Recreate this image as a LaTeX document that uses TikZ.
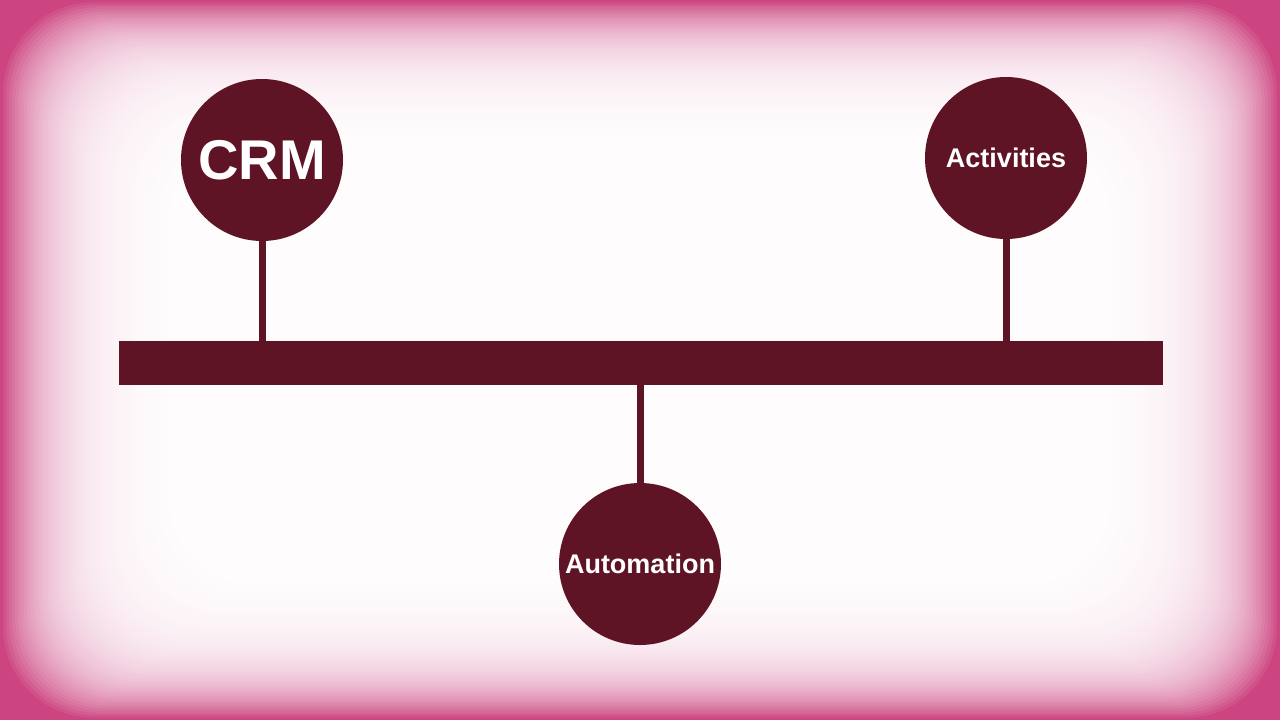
\documentclass[tikz,border=0pt]{standalone}
\usepackage{fontspec}
\setmainfont{Liberation Sans}
\usetikzlibrary{positioning}
\definecolor{maroon}{HTML}{5E1424}
\definecolor{rosepink}{HTML}{CC4580}

\begin{document}
\begin{tikzpicture}[
    x=1pt, y=-1pt,
    topic/.style={
        circle,
        fill=maroon,
        minimum size=162pt,
        inner sep=0pt,
        text=white,
        font=\fontsize{27}{27}\selectfont\bfseries,
    },
    stem/.style={
        draw=maroon,
        line width=7pt,
    },
]

% --- Pink vignette background ---
\fill[rosepink] (0,0) rectangle (1280,720);
\foreach \i in {1,...,60} {
    \pgfmathsetmacro{\shade}{100*exp(-\i/14)}
    \fill[rosepink!\shade!white, rounded corners=90pt]
        (\i*3, \i*2.4) rectangle (1280-\i*3, 720-\i*2.4);
}
\useasboundingbox (0,0) rectangle (1280,720);

% --- Bar ---
\node[fill=maroon, minimum width=1044pt, minimum height=44pt,
    inner sep=0pt] (bar) at (641,363) {};

% --- Topics ---
\node[topic, font=\fontsize{56}{56}\selectfont\bfseries] (crm) at (262,160) {CRM};
\node[topic] (act) at (1006,158) {Activities};
\node[topic] (auto) at (640,564) {Automation};

% --- Stems ---
\draw[stem] (crm.south) -- (crm.south |- bar.north);
\draw[stem] (act.south) -- (act.south |- bar.north);
\draw[stem] (bar.south -| auto.north) -- (auto.north);

\end{tikzpicture}
\end{document}
